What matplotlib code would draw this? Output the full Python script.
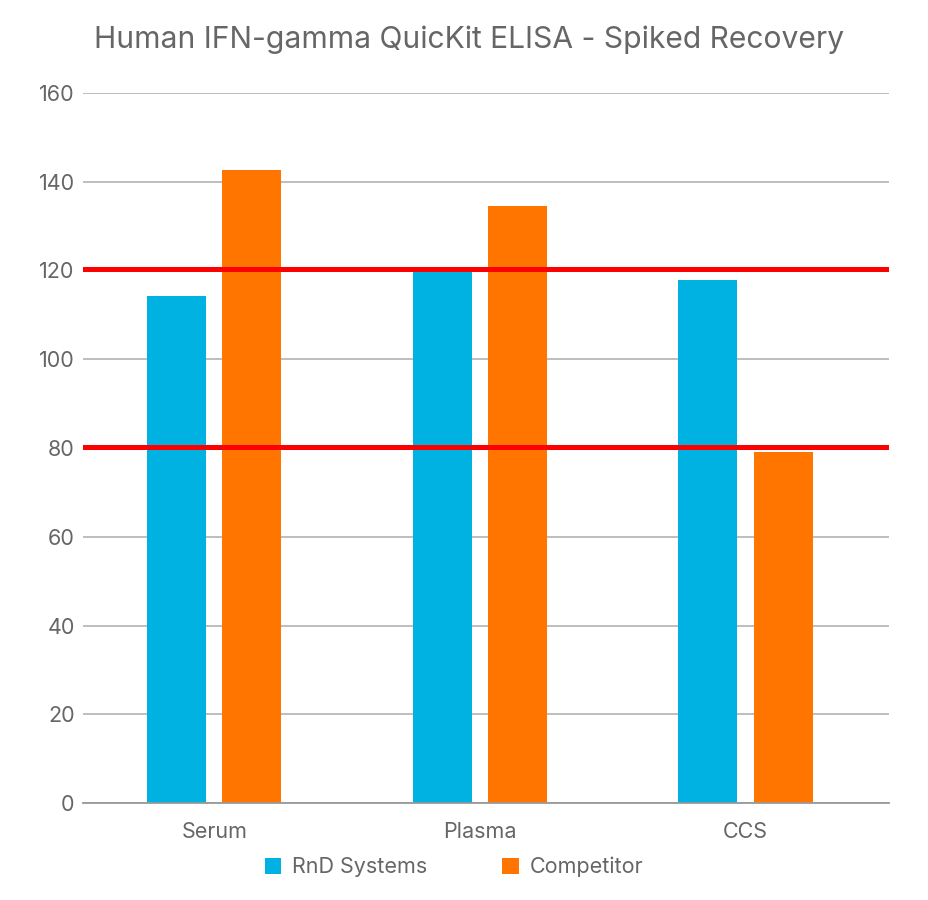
import numpy as np
import matplotlib.pyplot as plt

# Data
categories = ["Serum", "Plasma", "CCS"]
rnd_values = [114.3, 119.7, 117.9]
competitor_values = [142.6, 134.5, 79.0]
limits = [80, 120]

plt.rcParams["font.family"] = ["Inter", "DejaVu Sans"]

fig = plt.figure(figsize=(9.29, 9.0), dpi=100)
ax = fig.add_axes([83 / 929, 1 - 803 / 900, 806 / 929, 710 / 900])

x = np.arange(len(categories))
width = 0.222
ax.bar(x - 0.143, rnd_values, width, color="#00B2E2", label="RnD Systems", zorder=2)
ax.bar(x + 0.141, competitor_values, width, color="#FF7500", label="Competitor", zorder=2)

for lim in limits:
    ax.axhline(lim + 0.3, color="#FF0000", linewidth=3.6, zorder=3)

ax.set_ylim(0, 160)
ax.set_xlim(-0.495, 2.54)
ax.set_yticks(np.arange(0, 161, 20))
ax.set_xticks(x)
ax.set_xticklabels(categories)
ax.yaxis.grid(True, color="#b3b3b3", linewidth=1.2, zorder=0)
ax.set_axisbelow(True)
for side in ["top", "right", "left"]:
    ax.spines[side].set_visible(False)
ax.spines["bottom"].set_color("#999999")
ax.spines["bottom"].set_linewidth(1.3)
ax.tick_params(axis="both", length=0, labelsize=15.5, labelcolor="#666666")
ax.tick_params(axis="y", pad=6)
ax.tick_params(axis="x", pad=14)

fig.text(469 / 929, 1 - 40 / 900, "Human IFN-gamma QuicKit ELISA - Spiked Recovery",
         ha="center", va="center", fontsize=21.6, color="#666666")

fig.legend(loc="center", bbox_to_anchor=(454 / 929, 1 - 867 / 900), ncol=2, frameon=False,
           fontsize=15.5, labelcolor="#666666", handlelength=0.75, handleheight=0.75,
           columnspacing=3.5, handletextpad=0.5)

fig.savefig("out.png", dpi=100)
